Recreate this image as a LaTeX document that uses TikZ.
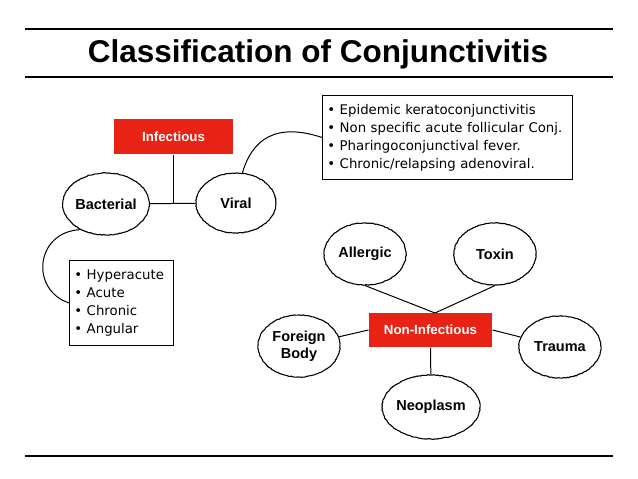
\documentclass[tikz,border=0pt]{standalone}
\usepackage{fontspec}
\setmainfont{Liberation Sans}
\newfontfamily\listfont{DejaVu Sans}
\usetikzlibrary{shapes.geometric,decorations.pathmorphing}
\definecolor{boxred}{RGB}{232,34,20}
\begin{document}
\begin{tikzpicture}[x=1pt, y=-1pt, line width=1pt,
    bubble/.style={ellipse, draw, line width=1.1pt, inner sep=0pt,
        minimum width=82pt, minimum height=62pt, align=center,
        font=\fontsize{14.5}{17}\selectfont\bfseries,
        decorate, decoration={random steps, segment length=1.5pt, amplitude=0.35pt}},
    redbox/.style={fill=boxred, text=white, inner sep=0pt,
        font=\fontsize{13.3}{16}\selectfont\bfseries},
    listbox/.style={draw, line width=0.9pt, anchor=north west, align=left,
        inner xsep=5pt, inner ysep=0pt,
        font=\listfont\fontsize{13.3}{18}\selectfont},
    rule/.style={line width=1.2pt}]
    \useasboundingbox (0,0) rectangle (638,479);
    % title and rules
    \draw[rule] (25,29) -- (613,29);
    \node (title) at (318,54) {\fontsize{31.5}{36}\selectfont\bfseries Classification of Conjunctivitis};
    \draw[rule] (25,77) -- (613,77);
    \draw[rule] (25,456) -- (613,456);

    % infectious
    \node [redbox, minimum width=119pt, minimum height=35pt] (infect) at (173.5,136.5) {Infectious};
    \node [bubble] (bact) at (106,204) {Bacterial};
    \node [bubble, minimum width=80pt, minimum height=60pt] (viral) at (236,203) {Viral};
    \node [listbox, text width=94pt, minimum height=85pt] (blist) at (69,260)
        {\textbullet\ Hyperacute\\ \textbullet\ Acute\\ \textbullet\ Chronic\\ \textbullet\ Angular};
    \node [listbox, text width=240pt, minimum height=84pt] (vlist) at (322,95)
        {\textbullet\ Epidemic keratoconjunctivitis\\
         \textbullet\ Non specific acute follicular Conj.\\
         \textbullet\ Pharingoconjunctival fever.\\
         \textbullet\ Chronic/relapsing adenoviral.};
    \draw (bact) -- (viral);
    \draw (infect) -- (infect |- bact.east);
    \draw (bact.225) .. controls (35,232) and (30,290) .. (blist.west);
    \draw (viral.78) .. controls (252,140) and (275,122) .. (vlist.west);

    % non-infectious
    \node [redbox, minimum width=123pt, minimum height=34pt] (nonin) at (430.5,330) {Non-Infectious};
    \node [bubble] (allerg) at (365,254) {Allergic};
    \node [bubble] (toxin) at (495,254) {Toxin};
    \node [bubble] (foreign) at (299,346) {Foreign\\Body};
    \node [bubble] (trauma) at (560,347) {Trauma};
    \node [bubble, minimum width=80pt, minimum height=64pt] (neo) at (431,407) {Neoplasm};
    \coordinate (njoin) at (435,313);
    \draw (allerg.south) -- (njoin);
    \draw (toxin.south) -- (njoin);
    \draw (foreign) -- (nonin.west);
    \draw (nonin.east) -- (trauma);
    \draw (nonin) -- (neo);
\end{tikzpicture}
\end{document}
